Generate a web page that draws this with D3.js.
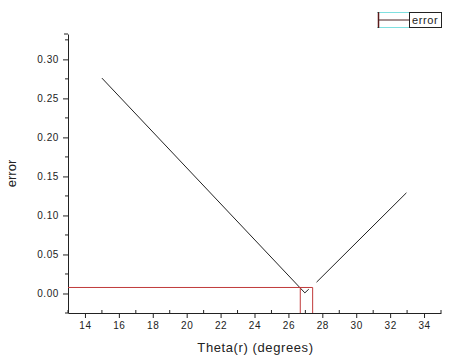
<!DOCTYPE html>
<html>
<head>
<meta charset="utf-8">
<script src="https://cdn.jsdelivr.net/npm/d3@7"></script>
<style>
  body { margin: 0; background: #fff; }
  text { font-family: "Liberation Sans", Arial, sans-serif; fill: #222; }
</style>
</head>
<body>
<div id="chart"></div>
<script>
/* DATA */
// error curve, split in two pieces (there is a gap near the minimum)
const curveLeft = [[15.0, 0.276], [26.97, 0.0008], [27.2, 0.0055]];
const curveRight = [[27.66, 0.0145], [32.96, 0.129]];
// red marker lines around the minimum
const markerH = [[13, 0.0077], [27.43, 0.0077]];
const markerX = [26.7, 27.43];
const markerTop = 0.0077;

const xTicks = [14, 16, 18, 20, 22, 24, 26, 28, 30, 32, 34];
const yTicks = [0.00, 0.05, 0.10, 0.15, 0.20, 0.25, 0.30];
const seriesName = "error";

/* CONSTANTS */
const width = 474,
  height = 358,
  margin = { top: 34, bottom: 45, left: 68, right: 33 };

const svg = d3.select("#chart")
  .append("svg")
  .attr("width", width)
  .attr("height", height);

const xScale = d3.scaleLinear()
  .domain([13, 35])
  .range([margin.left, width - margin.right]);

const yScale = d3.scaleLinear()
  .domain([-0.025, 0.3325])
  .range([height - margin.bottom, margin.top]);

// minor ticks
const xMinor = d3.range(13, 35.5, 1).filter(d => d % 2 !== 0);
const yMinor = d3.range(-0.025, 0.33, 0.05);

// + AXES
const xAxis = d3.axisBottom(xScale)
  .tickValues(xTicks)
  .tickSize(5)
  .tickSizeOuter(0)
  .tickPadding(4)
  .tickFormat(d3.format("d"));

const yAxis = d3.axisLeft(yScale)
  .tickValues(yTicks)
  .tickSize(5)
  .tickSizeOuter(0)
  .tickPadding(4)
  .tickFormat(d3.format(".2f"));

const gx = svg.append("g")
  .attr("class", "x-axis")
  .attr("transform", `translate(0,${yScale(-0.025)})`)
  .call(xAxis);

gx.selectAll(".minor")
  .data(xMinor)
  .join("line")
  .attr("class", "minor")
  .attr("x1", d => xScale(d)).attr("x2", d => xScale(d))
  .attr("y1", -3).attr("y2", 0)
  .attr("stroke", "#222");

const gy = svg.append("g")
  .attr("class", "y-axis")
  .attr("transform", `translate(${xScale(13)},0)`)
  .call(yAxis);

gy.selectAll(".minor")
  .data(yMinor)
  .join("line")
  .attr("class", "minor")
  .attr("x1", -3).attr("x2", 0)
  .attr("y1", d => yScale(d)).attr("y2", d => yScale(d))
  .attr("stroke", "#222");

// small end tick at top of y axis
gy.append("line")
  .attr("x1", -4).attr("x2", 0)
  .attr("y1", yScale(0.3325)).attr("y2", yScale(0.3325))
  .attr("stroke", "#222");

[gx, gy].forEach(g => {
  g.select(".domain").attr("stroke", "#222");
  g.selectAll(".tick line").attr("stroke", "#222");
  g.selectAll(".tick text")
    .style("font-size", "10px")
    .style("letter-spacing", "0.6px")
    .attr("fill", "#333");
});

// axis titles
svg.append("text")
  .attr("x", (xScale(13) + xScale(35)) / 2 + 1)
  .attr("y", 352)
  .attr("text-anchor", "middle")
  .style("font-size", "13px")
  .style("letter-spacing", "0.6px")
  .text("Theta(r) (degrees)");

svg.append("text")
  .attr("transform", `translate(16,${(yScale(-0.025) + yScale(0.3325)) / 2}) rotate(-90)`)
  .attr("text-anchor", "middle")
  .style("font-size", "13px")
  .text("error");

// + LINES
const line = d3.line()
  .x(d => xScale(d[0]))
  .y(d => yScale(d[1]));

svg.selectAll(".curve")
  .data([curveLeft, curveRight])
  .join("path")
  .attr("class", "curve")
  .attr("d", line)
  .attr("fill", "none")
  .attr("stroke", "#222")
  .attr("stroke-width", 1);

svg.append("path")
  .attr("d", line(markerH))
  .attr("fill", "none")
  .attr("stroke", "#c03a3a")
  .attr("stroke-width", 1);

svg.selectAll(".marker-v")
  .data(markerX)
  .join("line")
  .attr("class", "marker-v")
  .attr("x1", d => xScale(d)).attr("x2", d => xScale(d))
  .attr("y1", yScale(markerTop)).attr("y2", yScale(-0.025))
  .attr("stroke", "#c03a3a")
  .attr("stroke-width", 1);

// + LEGEND
const lg = svg.append("g").attr("transform", "translate(377,12)");
lg.append("line").attr("x1", 0).attr("x2", 32).attr("y1", 0.5).attr("y2", 0.5)
  .attr("stroke", "#7fe0e0");
lg.append("line").attr("x1", 0).attr("x2", 32).attr("y1", 15.5).attr("y2", 15.5)
  .attr("stroke", "#7fe0e0");
lg.append("line").attr("x1", 1.5).attr("x2", 1.5).attr("y1", 0).attr("y2", 16)
  .attr("stroke", "#5a1a1a").attr("stroke-width", 1.5);
lg.append("line").attr("x1", 1).attr("x2", 32).attr("y1", 8).attr("y2", 8)
  .attr("stroke", "#4a2020");
lg.append("rect").attr("x", 32.5).attr("y", 0.5).attr("width", 32).attr("height", 15)
  .attr("fill", "none").attr("stroke", "#222");
lg.append("text").attr("x", 35).attr("y", 12)
  .style("font-size", "11px")
  .style("letter-spacing", "0.6px")
  .text(seriesName);
</script>
</body>
</html>
